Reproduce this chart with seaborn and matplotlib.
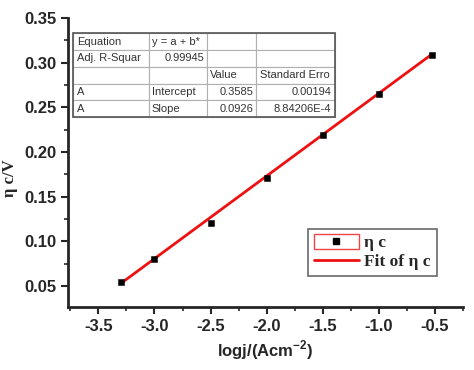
import matplotlib
matplotlib.use('Agg')
import matplotlib.pyplot as plt
import matplotlib.patches as mpatches
from matplotlib.legend_handler import HandlerBase
from matplotlib.lines import Line2D
from matplotlib.ticker import MultipleLocator
import seaborn as sns
import numpy as np
import pandas as pd

# ── datos ─────────────────────────────────────────────────────────────────────
log_j = [-3.3, -3.0, -2.5, -2.0, -1.5, -1.0, -0.53]
eta_c = [0.0544, 0.080, 0.121, 0.171, 0.219, 0.265, 0.309]
intercept = 0.3585
slope = 0.0926

tabla = [
    ['Equation', 'y = a + b*', '', ''],
    ['Adj. R-Squar', '0.99945', '', ''],
    ['', '', 'Value', 'Standard Erro'],
    ['A', 'Intercept', '0.3585', '0.00194'],
    ['A', 'Slope', '0.0926', '8.84206E-4'],
]

df = pd.DataFrame({'x': log_j, 'y': eta_c})
x_fit = np.array([log_j[0], log_j[-1]])
df_fit = pd.DataFrame({'x': x_fit, 'y': intercept + slope * x_fit})

sns.set_style('ticks')
plt.rcParams['font.family'] = ['Liberation Sans', 'DejaVu Sans']
plt.rcParams['mathtext.fontset'] = 'custom'
plt.rcParams['mathtext.bf'] = 'Liberation Sans:bold'
plt.rcParams['mathtext.rm'] = 'Liberation Sans:bold'

fig = plt.figure(figsize=(4.74, 3.70), dpi=100)
ax = fig.add_axes([0.1435, 0.170, 0.8335, 0.781])

sns.lineplot(data=df_fit, x='x', y='y', ax=ax, color='#ee1111', lw=2, zorder=2)
sns.scatterplot(data=df, x='x', y='y', ax=ax, marker='s', s=22, color='black',
                edgecolor='black', zorder=3)

ax.set_xlim(-3.77, -0.25)
ax.set_ylim(0.0265, 0.35)
ax.xaxis.set_minor_locator(MultipleLocator(0.25))
ax.yaxis.set_minor_locator(MultipleLocator(0.025))
ax.set_xticks(np.arange(-3.5, -0.4, 0.5))
ax.set_xticklabels([f'{v:.1f}' for v in np.arange(-3.5, -0.4, 0.5)])
ax.set_yticks(np.arange(0.05, 0.351, 0.05))
ax.set_yticklabels([f'{v:.2f}' for v in np.arange(0.05, 0.351, 0.05)])

for s in ['top', 'right']:
    ax.spines[s].set_visible(False)
for s in ['left', 'bottom']:
    ax.spines[s].set_linewidth(2)
ax.tick_params(which='major', length=5, width=1.5, labelsize=12, direction='out')
ax.tick_params(which='minor', length=3, width=1.2, direction='out')
for lab in ax.get_xticklabels() + ax.get_yticklabels():
    lab.set_fontweight('bold')

ax.set_xlabel('logj/(Acm$^{\\mathbf{-2}}$)', fontsize=12, fontweight='bold')
ax.xaxis.set_label_coords(0.5, -0.11)
ax.set_ylabel('η c/V', fontsize=12, fontweight='bold', family=['Liberation Serif'])
ax.yaxis.set_label_coords(-0.127, 0.446)

# ── tabla del ajuste ──────────────────────────────────────────────────────────
tb = ax.table(cellText=tabla, bbox=[0.0127, 0.657, 0.663, 0.291],
              colWidths=[76, 58, 49, 79], cellLoc='left', zorder=4)
tb.auto_set_font_size(False)
tb.set_fontsize(8)
derecha = {(1, 1), (3, 2), (4, 2), (3, 3), (4, 3)}
for (r, c), cell in tb.get_celld().items():
    cell.set_edgecolor('#b0b0b0')
    cell.set_linewidth(0.8)
    cell.PAD = 0.05
    cell.get_text().set_color('#333333')
    if (r, c) in derecha:
        cell._loc = 'right'
        cell.get_text().set_ha('right')
ax.add_patch(mpatches.Rectangle((0.0127, 0.657), 0.663, 0.291, transform=ax.transAxes,
                                fill=False, edgecolor='#555555', lw=1.2, zorder=5))


# ── leyenda estilo Origin ────────────────────────────────────────────────────
class HandlerCaja(HandlerBase):
    def create_artists(self, legend, orig, xd, yd, w, h, fontsize, trans):
        caja = mpatches.Rectangle((xd, yd - 1), w, h + 2, fill=False,
                                  edgecolor='#ee4444', lw=1, transform=trans)
        punto = Line2D([xd + w / 2], [yd + h / 2], marker='s', ms=5,
                       color='black', ls='none', transform=trans)
        return [caja, punto]


h_pts = Line2D([], [], marker='s', color='black', ls='none')
h_fit = Line2D([], [], color='#ee1111', lw=2)
leg = ax.legend([h_pts, h_fit], ['η c', 'Fit of η c'],
                handler_map={h_pts: HandlerCaja()},
                loc='upper left', bbox_to_anchor=(0.585, 0.30),
                frameon=True, fancybox=False, edgecolor='#444444',
                prop={'family': 'Liberation Serif', 'weight': 'bold', 'size': 12.5},
                handlelength=2.6, handletextpad=0.3, borderpad=0.35, labelspacing=0.15)
leg.get_frame().set_linewidth(1.2)

fig.savefig('out.png', dpi=100)
